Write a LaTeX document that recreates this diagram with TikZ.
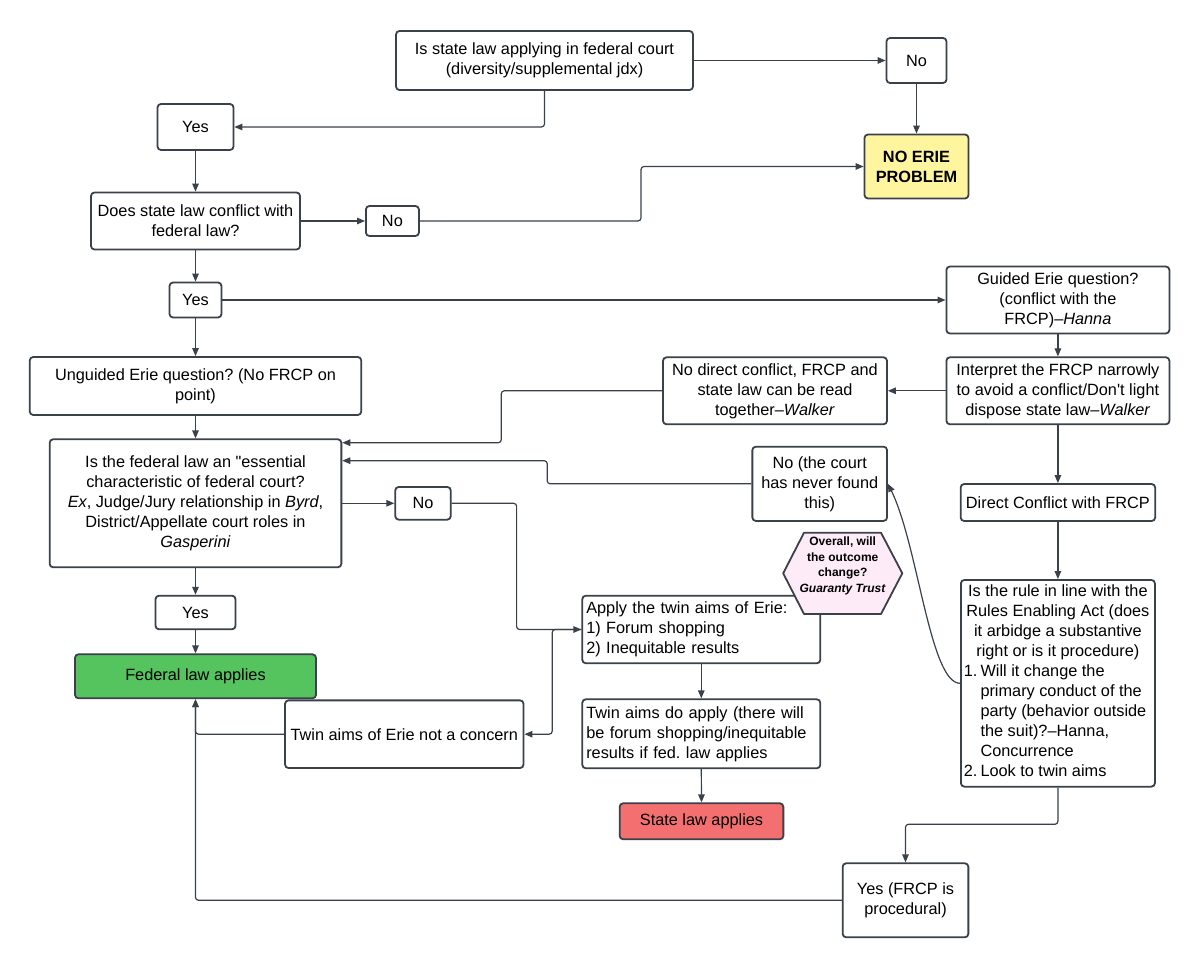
\documentclass[tikz,border=0pt]{standalone}
\usepackage{fontspec}
\setmainfont{Liberation Sans}[Ligatures=TeXOff]
\usetikzlibrary{arrows.meta,calc}
\definecolor{ln}{HTML}{3A414A}
\definecolor{yel}{HTML}{FFF59E}
\definecolor{grn}{HTML}{55C45F}
\definecolor{redf}{HTML}{F47070}
\definecolor{pnk}{HTML}{FDEBF7}
\frenchspacing
\begin{document}
\begin{tikzpicture}[x=1pt,y=-1pt,
 bx/.style={draw=ln, line width=1.8pt, rounded corners=3.5pt, fill=white, inner sep=0pt, align=center, font=\fontsize{16.3}{20}\selectfont, text=black},
 lbx/.style={bx, align=left, inner xsep=4pt},
 conn/.style={draw=ln, line width=1.2pt, rounded corners=3pt, -{Triangle[length=8pt,width=6.5pt]}}]
\useasboundingbox[fill=white] (0,0) rectangle (1200,968);

% nodes
\node[bx, minimum width=297pt, minimum height=59pt] (top) at (544.5,60.5) {Is state law applying in federal court\\(diversity/supplemental jdx)};
\node[bx, minimum width=60pt, minimum height=45pt] (no1) at (916.5,60.5) {No};
\node[bx, minimum width=76pt, minimum height=46pt] (yes1) at (195.5,127) {Yes};
\node[bx, fill=yel, minimum width=104pt, minimum height=64pt, font=\bfseries\fontsize{16.3}{20}\selectfont] (noerie) at (916.5,166.5) {NO ERIE\\PROBLEM};
\node[bx, minimum width=209pt, minimum height=57pt] (does) at (195.5,221) {Does state law conflict with\\federal law?};
\node[bx, minimum width=53pt, minimum height=30pt] (no2) at (392.4,221) {No};
\node[bx, minimum width=52pt, minimum height=35pt] (yes3) at (195.5,300) {Yes};
\node[bx, minimum width=223pt, minimum height=67pt] (guided) at (1057.9,300) {Guided Erie question?\\(conflict with the\\FRCP)–\textit{Hanna}};
\node[bx, minimum width=331.5pt, minimum height=58pt] (unguided) at (195.5,386) {Unguided Erie question? (No FRCP on\\point)};
\node[bx, minimum width=224pt, minimum height=67pt] (nodirect) at (775,390.8) {No direct conflict, FRCP and\\state law can be read\\together–\textit{Walker}};
\node[bx, minimum width=223pt, minimum height=67pt] (interpret) at (1057.9,390.8) {Interpret the FRCP narrowly\\to avoid a conflict/Don't light\\dispose state law–\textit{Walker}};
\node[bx, minimum width=291.7pt, minimum height=128pt] (essential) at (195.5,503.3) {Is the federal law an "essential\\characteristic of federal court?\\\textit{Ex}, Judge/Jury relationship in \textit{Byrd},\\District/Appellate court roles in\\\textit{Gasperini}};
\node[bx, minimum width=55.5pt, minimum height=32.7pt] (no3) at (423,503.3) {No};
\node[bx, minimum width=134.7pt, minimum height=74.3pt] (nocourt) at (819.7,483.8) {No (the court\\has never found\\this)};
\node[bx, minimum width=194.5pt, minimum height=37pt] (direct) at (1057.9,502.5) {Direct Conflict with FRCP};
\node[bx, minimum width=80pt, minimum height=33.6pt] (yes4) at (195.5,612.5) {Yes};
\node[bx, fill=grn, minimum width=241pt, minimum height=44pt] (federal) at (195.5,676.3) {Federal law applies};
\node[lbx, text width=230pt, minimum height=67.6pt] (apply) at (701.3,629.5) {Apply the twin aims of Erie:\\1) Forum shopping\\2) Inequitable results};
\node[bx, minimum width=238.5pt, minimum height=67.7pt] (twinnot) at (404.3,734.2) {Twin aims of Erie not a concern};
\node[lbx, text width=230pt, minimum height=69pt] (twindo) at (701.3,733.8) {Twin aims do apply (there will\\be forum shopping/inequitable\\results if fed. law applies};
\node[bx, fill=redf, minimum width=163.7pt, minimum height=36pt] (state) at (701.5,821.3) {State law applies};
\node[bx, minimum width=194pt, minimum height=206.7pt] (rule) at (1057.9,683.3) {\parbox{190pt}{\centering Is the rule in line with the\\Rules Enabling Act (does\\it arbidge a substantive\\right or is it procedure)\par\raggedright\noindent\hspace*{1pt}\begin{tabular}[t]{@{}l@{\hspace{3pt}}l@{}}1. & Will it change the\\ & primary conduct of the\\ & party (behavior outside\\ & the suit)?–Hanna,\\ & Concurrence\\2. & Look to twin aims\end{tabular}}};
\node[bx, minimum width=125.7pt, minimum height=74pt] (yesfrcp) at (905.5,900.3) {Yes (FRCP is\\procedural)};

% hexagon
\draw[draw=ln, fill=pnk, line width=1.8pt, line join=round] (783.2,573.3) -- (804,532.7) -- (881,532.7) -- (902.3,573.3) -- (881,614) -- (804,614) -- cycle;
\node[inner sep=0pt, align=center, font=\bfseries\fontsize{12}{15.5}\selectfont] (hex) at (842.7,566) {Overall, will\\the outcome\\change?\\\textit{Guaranty Trust}};

% connectors
\draw[conn] (top.south) |- (yes1.east);
\draw[conn] (top.east) -- (no1.west);
\draw[conn] (no1.south) -- (noerie.north);
\draw[conn] (yes1.south) -- (does.north);
\draw[conn] (does.east) -- (no2.west);
\coordinate (b1) at (641,221);
\draw[conn] (no2.east) -- (b1) |- (noerie.west);
\draw[conn] (does.south) -- (yes3.north);
\draw[conn] (yes3.east) -- (guided.west);
\draw[conn] (yes3.south) -- (unguided.north);
\draw[conn] (unguided.south) -- (essential.north);
\draw[conn] (guided.south) -- (interpret.north);
\draw[conn] (interpret.west) -- (nodirect.east);
\coordinate (b2) at (501.3,442.7);
\draw[conn] (nodirect.west) -| (b2) -- (b2 -| essential.east);
\coordinate (b3) at (547.2,460.7);
\draw[conn] (nocourt.west) -| (b3) -- (b3 -| essential.east);
\draw[conn] (essential.east) -- (no3.west);
\coordinate (b4) at (516.6,629.5);
\draw[conn] (no3.east) -| (b4) -- (apply.west);
\coordinate (b5) at (552.2,629.5);
\draw[conn] (apply.west) -- (b5) |- (twinnot.east);
\draw[conn] (twinnot.west) -| (federal.south);
\draw[conn] (yesfrcp.west) -| (federal.south);
\draw[conn] (yes4.south) -- (federal.north);
\draw[conn] (essential.south) -- (yes4.north);
\draw[conn] (apply.south) -- (twindo.north);
\draw[conn] (twindo.south) -- (state.north);
\draw[conn] (interpret.south) -- (direct.north);
\draw[conn] (direct.south) -- (rule.north);
\coordinate (b6) at (1057.9,824.3);
\draw[conn] (rule.south) -- (b6) -| (yesfrcp.north);
\draw[conn] (rule.west) .. controls (930,683.3) and (918,545) .. (nocourt.east);
\end{tikzpicture}
\end{document}
